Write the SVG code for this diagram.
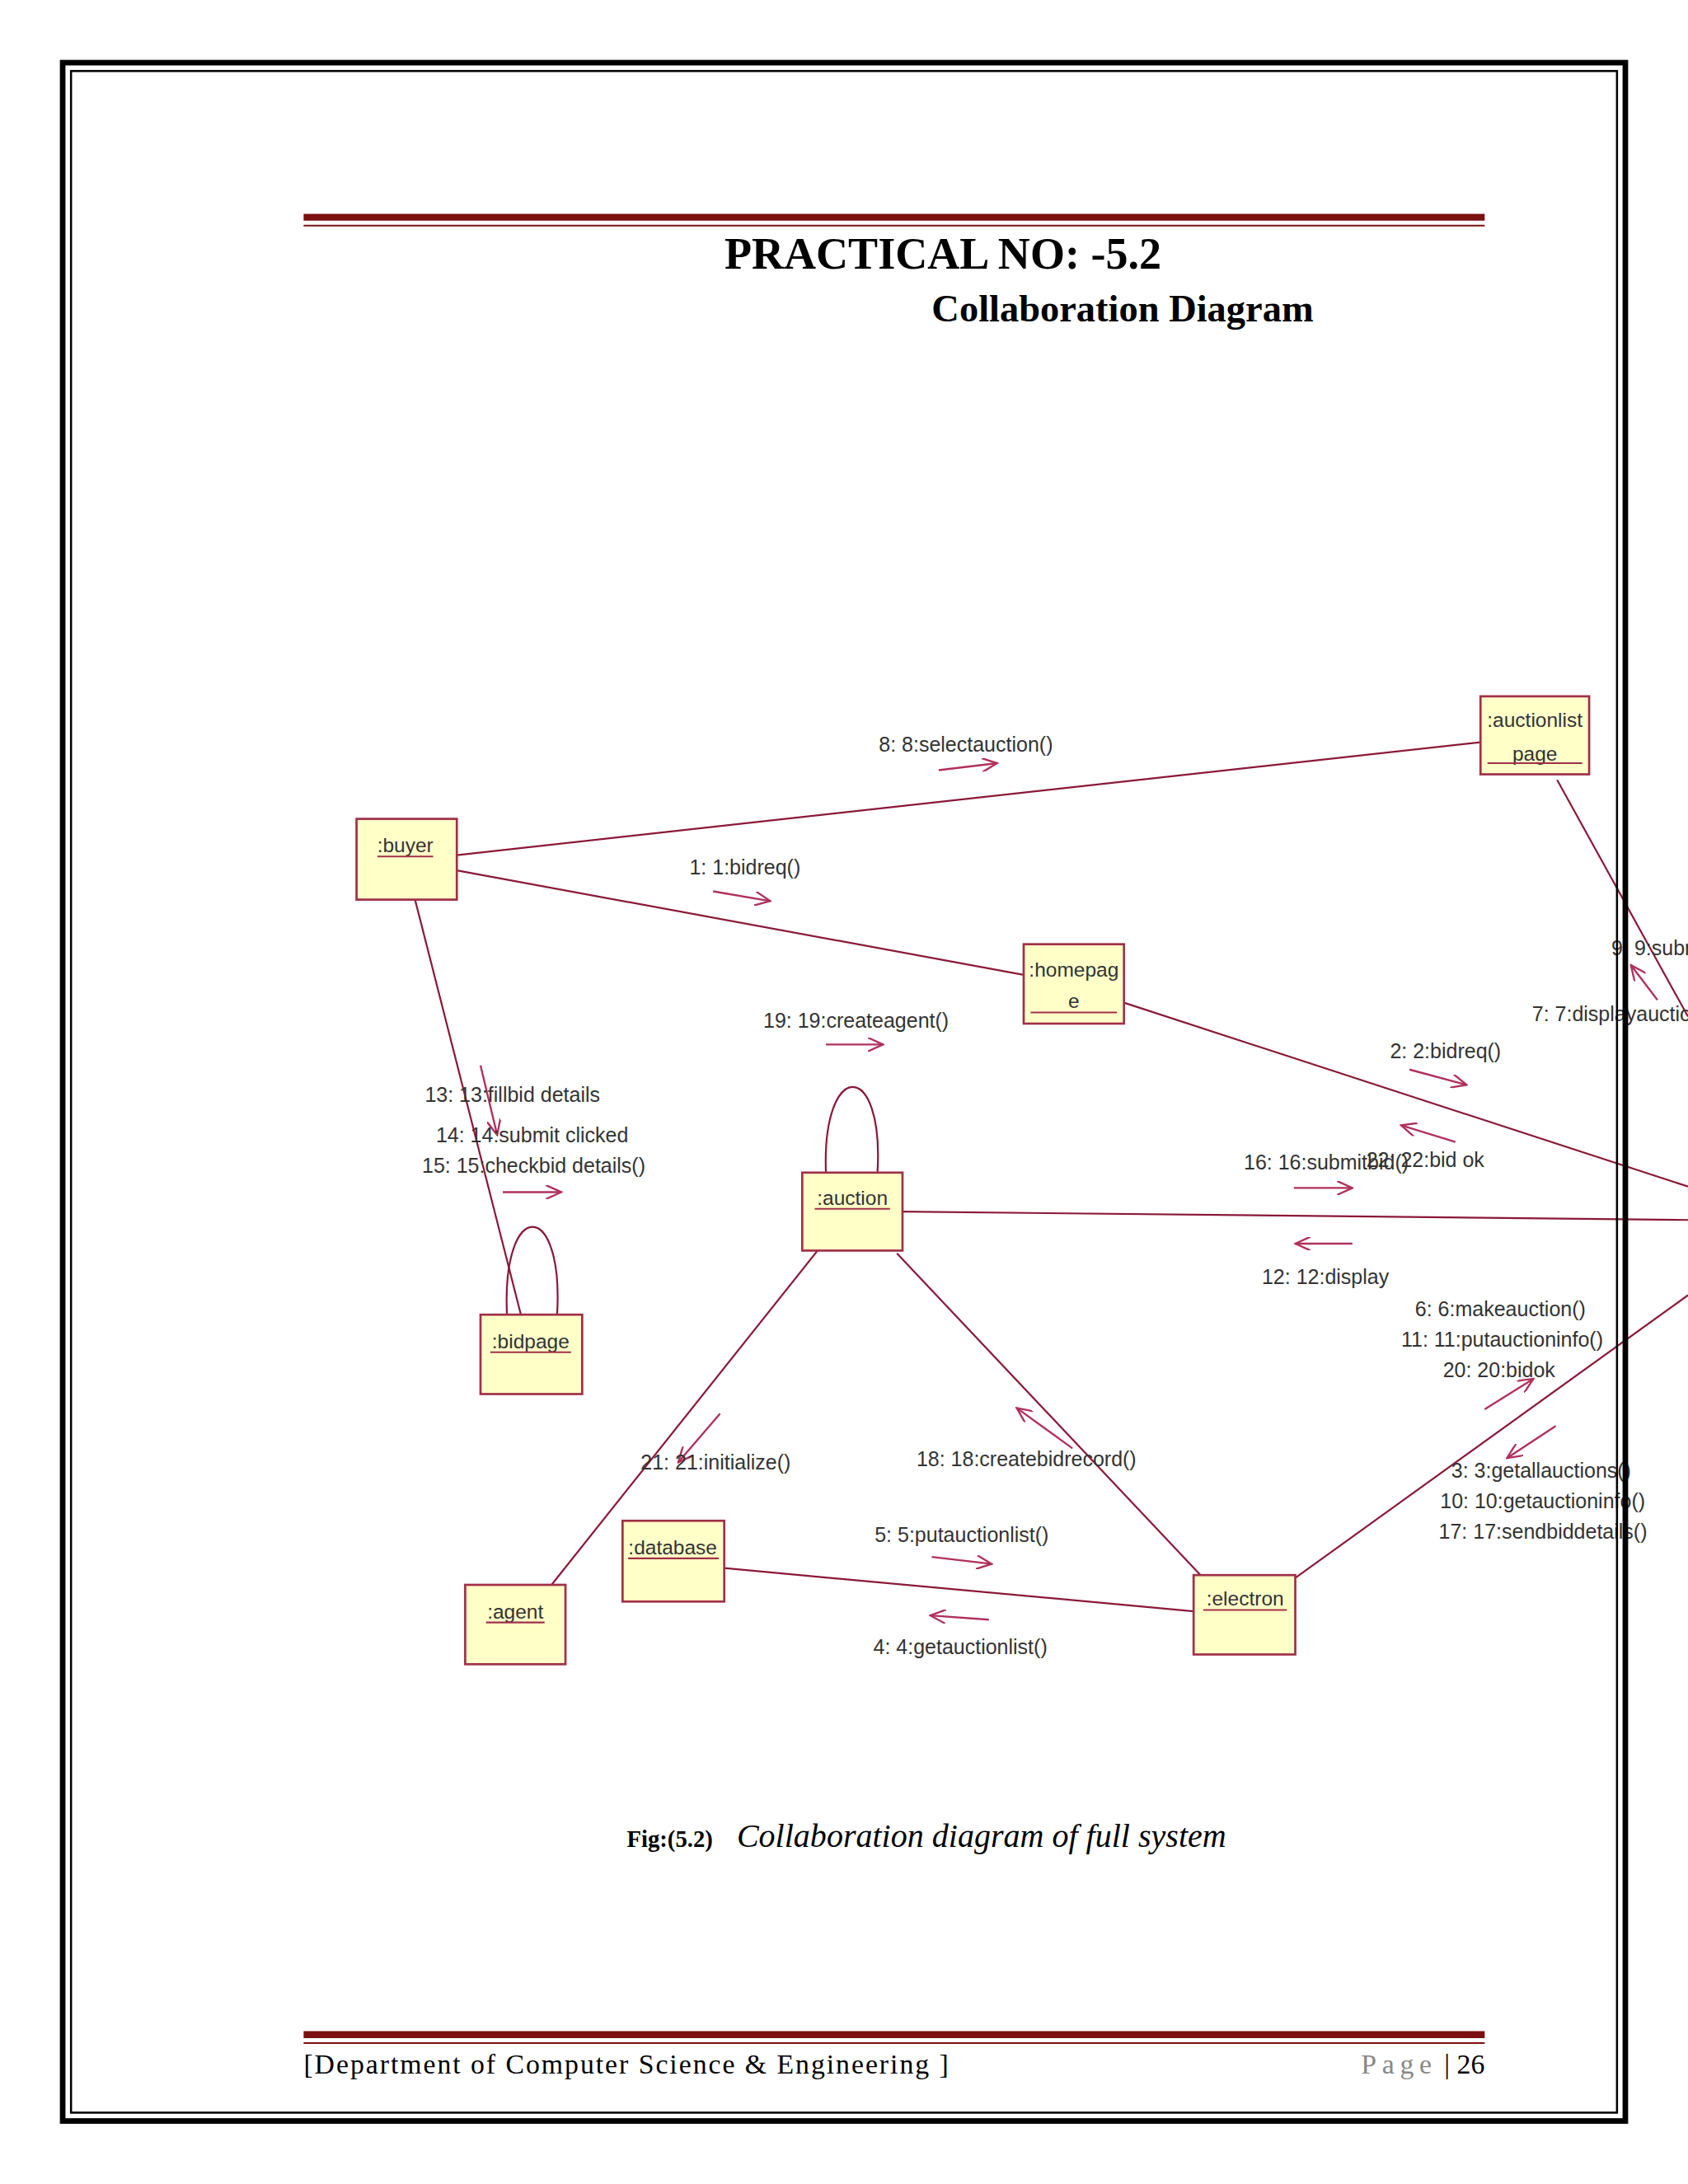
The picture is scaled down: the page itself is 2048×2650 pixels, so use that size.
<svg xmlns="http://www.w3.org/2000/svg" width="2048" height="2650" viewBox="0 0 2048 2650">
<defs>
<style>
.n{fill:#ffffc8;stroke:#a03048;stroke-width:1.6}
.u{stroke:#a03048;stroke-width:1.2}
.c{stroke:#8a1838;stroke-width:1.3;fill:none}
.a{stroke:#b0305a;stroke-width:1.4;fill:none;marker-end:url(#h)}
.t{font-family:"Liberation Sans",Arial,sans-serif;font-size:14.8px;fill:#333}
.nl{font-family:"Liberation Sans",Arial,sans-serif;font-size:14.5px;fill:#333;text-anchor:middle}
</style>
<marker id="h" markerWidth="12" markerHeight="10" refX="11" refY="5" orient="auto" markerUnits="userSpaceOnUse">
<path d="M0,0 L11,5 L0,10" fill="none" stroke="#b0305a" stroke-width="1.4"/>
</marker>
</defs>
<rect width="2048" height="2650" fill="#fff"/>
<g transform="scale(1.6898)">
<g id="header">
<line x1="218" y1="156" x2="1066" y2="156" stroke="#7a1010" stroke-width="5"/>
<line x1="218" y1="162" x2="1066" y2="162" stroke="#7a1010" stroke-width="1.2"/>
<text x="677" y="193" text-anchor="middle" font-family="Liberation Serif,serif" font-weight="bold" font-size="32">PRACTICAL NO: -5.2</text>
<text x="806" y="231" text-anchor="middle" font-family="Liberation Serif,serif" font-weight="bold" font-size="27.5">Collaboration Diagram</text>
</g>
<g id="connectors">
<line class="c" x1="328" y1="614" x2="1063" y2="533"/>
<line class="c" x1="328" y1="625" x2="735" y2="700"/>
<line class="c" x1="807" y1="720" x2="1212" y2="852"/>
<line class="c" x1="298" y1="646" x2="374" y2="944"/>
<line class="c" x1="648" y1="870" x2="1212" y2="876"/>
<line class="c" x1="587" y1="898" x2="396" y2="1138"/>
<line class="c" x1="644" y1="900" x2="862" y2="1131"/>
<line class="c" x1="520" y1="1126" x2="857" y2="1157"/>
<line class="c" x1="930" y1="1133" x2="1212" y2="930"/>
<line class="c" x1="1118" y1="560" x2="1212" y2="730"/>
<path class="c" d="M593,842 C590,760 635,760 630,842"/>
<path class="c" d="M364,944 C360,860 405,860 400,944"/>
<line class="a" x1="674" y1="553" x2="716" y2="548"/>
<line class="a" x1="512" y1="640" x2="553" y2="647"/>
<line class="a" x1="593" y1="750" x2="634" y2="750"/>
<line class="a" x1="1012" y1="768" x2="1053" y2="779"/>
<line class="a" x1="1045" y1="820" x2="1006" y2="808"/>
<line class="a" x1="929" y1="853" x2="971" y2="853"/>
<line class="a" x1="971" y1="893" x2="930" y2="893"/>
<line class="a" x1="361" y1="856" x2="403" y2="856"/>
<line class="a" x1="345" y1="765" x2="357" y2="815"/>
<line class="a" x1="1066" y1="1012" x2="1101" y2="990"/>
<line class="a" x1="1117" y1="1024" x2="1082" y2="1047"/>
<line class="a" x1="517" y1="1015" x2="487" y2="1050"/>
<line class="a" x1="770" y1="1040" x2="730" y2="1011"/>
<line class="a" x1="669" y1="1118" x2="712" y2="1123"/>
<line class="a" x1="710" y1="1163" x2="668" y2="1160"/>
<line class="a" x1="1190" y1="718" x2="1171" y2="693"/>
</g>
<g id="labels">
<text class="t" x="631" y="540">8: 8:selectauction()</text>
<text class="t" x="495" y="628">1: 1:bidreq()</text>
<text class="t" x="548" y="738">19: 19:createagent()</text>
<text class="t" x="998" y="760">2: 2:bidreq()</text>
<text class="t" x="981" y="838">22: 22:bid ok</text>
<text class="t" x="893" y="840">16: 16:submitbid()</text>
<text class="t" x="906" y="922">12: 12:display</text>
<text class="t" x="305" y="791">13: 13:fillbid details</text>
<text class="t" x="313" y="820">14: 14:submit clicked</text>
<text class="t" x="303" y="842">15: 15:checkbid details()</text>
<text class="t" x="1016" y="945">6: 6:makeauction()</text>
<text class="t" x="1006" y="967">11: 11:putauctioninfo()</text>
<text class="t" x="1036" y="989">20: 20:bidok</text>
<text class="t" x="1042" y="1061">3: 3:getallauctions()</text>
<text class="t" x="1034" y="1083">10: 10:getauctioninfo()</text>
<text class="t" x="1033" y="1105">17: 17:sendbiddetails()</text>
<text class="t" x="460" y="1055">21: 21:initialize()</text>
<text class="t" x="658" y="1053">18: 18:createbidrecord()</text>
<text class="t" x="628" y="1107">5: 5:putauctionlist()</text>
<text class="t" x="627" y="1188">4: 4:getauctionlist()</text>
<text class="t" x="1157" y="686">9: 9:submit</text>
<text class="t" x="1100" y="733">7: 7:displayauction</text>
</g>
<g id="buyer"><rect class="n" x="256" y="588" width="72" height="58"/><text class="nl" x="291" y="612">:buyer</text><line class="u" x1="271" y1="615" x2="311" y2="615"/></g>
<g id="auctionlistpage"><rect class="n" x="1063" y="500" width="78" height="56"/><text class="nl" x="1102" y="522">:auctionlist</text><text class="nl" x="1102" y="546">page</text><line class="u" x1="1068" y1="548" x2="1136" y2="548"/></g>
<g id="homepage"><rect class="n" x="735" y="678" width="72" height="57"/><text class="nl" x="771" y="701">:homepag</text><text class="nl" x="771" y="724">e</text><line class="u" x1="740" y1="727" x2="802" y2="727"/></g>
<g id="auction"><rect class="n" x="576" y="842" width="72" height="56"/><text class="nl" x="612" y="865">:auction</text><line class="u" x1="585" y1="868" x2="639" y2="868"/></g>
<g id="bidpage"><rect class="n" x="345" y="944" width="73" height="57"/><text class="nl" x="381" y="968">:bidpage</text><line class="u" x1="352" y1="971" x2="410" y2="971"/></g>
<g id="agent"><rect class="n" x="334" y="1138" width="72" height="57"/><text class="nl" x="370" y="1162">:agent</text><line class="u" x1="349" y1="1165" x2="391" y2="1165"/></g>
<g id="database"><rect class="n" x="447" y="1092" width="73" height="58"/><text class="nl" x="483" y="1116">:database</text><line class="u" x1="451" y1="1119" x2="516" y2="1119"/></g>
<g id="electron"><rect class="n" x="857" y="1131" width="73" height="57"/><text class="nl" x="894" y="1153">:electron</text><line class="u" x1="864" y1="1156" x2="924" y2="1156"/></g>
<g id="footer">
<text x="450" y="1326" font-family="Liberation Serif,serif" font-weight="bold" font-size="17">Fig:(5.2)</text>
<text x="529" y="1326" font-family="Liberation Serif,serif" font-style="italic" font-size="23.7">Collaboration diagram of full system</text>
<line x1="218" y1="1461" x2="1066" y2="1461" stroke="#7a1010" stroke-width="5"/>
<line x1="218" y1="1467" x2="1066" y2="1467" stroke="#7a1010" stroke-width="1.2"/>
<text x="218" y="1489" font-family="Liberation Serif,serif" font-size="20" textLength="463" lengthAdjust="spacing">[Department of Computer Science &amp; Engineering ]</text>
<text x="1066" y="1489" text-anchor="end" font-family="Liberation Serif,serif" font-size="20"><tspan fill="#888" letter-spacing="4">Page</tspan> | 26</text>
</g>
<g id="border" fill="none" stroke="#000">
<rect x="45" y="45" width="1122" height="1478" stroke-width="4"/>
<rect x="51" y="51" width="1110" height="1466" stroke-width="1.5"/>
</g>
</g>
</svg>
